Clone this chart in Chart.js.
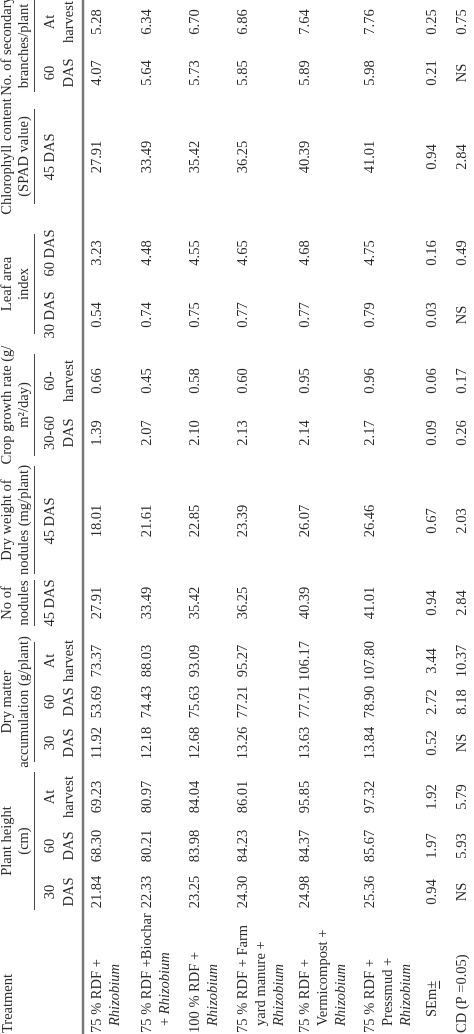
<!DOCTYPE html>
<html>
<head>
<meta charset="utf-8">
<script src="https://cdn.jsdelivr.net/npm/chart.js@4.4.0/dist/chart.umd.min.js"></script>
<style>
  html, body { margin: 0; padding: 0; background: #fff; overflow: hidden; }
  #page { width: 474px; height: 1034px; position: relative; overflow: hidden; }
  #wrap { position: absolute; left: 0; top: 0; width: 1034px; height: 474px;
          transform-origin: 0 0; transform: translate(0, 1034px) rotate(-90deg); }
</style>
</head>
<body>
<div id="page"><div id="wrap"><canvas id="TableChart" width="1034" height="474"></canvas></div></div>
<script>
// rows: six treatments, then SEm and CD
const treatments = [
    ['75 % RDF +', '*Rhizobium'],
    ['75 % RDF +Biochar', '+ *Rhizobium'],
    ['100 % RDF +', '*Rhizobium'],
    ['75 % RDF + Farm', 'yard manure +', '*Rhizobium'],
    ['75 % RDF +', 'Vermicompost +', '*Rhizobium'],
    ['75 % RDF +', 'Pressmud +', '*Rhizobium'],
    ['SEm±'],
    ['CD (P =0.05)']
];
const plantHeight30 = ['21.84', '22.33', '23.25', '24.30', '24.98', '25.36', '0.94', 'NS'];
const plantHeight60 = ['68.30', '80.21', '83.98', '84.23', '84.37', '85.67', '1.97', '5.93'];
const plantHeightHarvest = ['69.23', '80.97', '84.04', '86.01', '95.85', '97.32', '1.92', '5.79'];
const dryMatter30 = ['11.92', '12.18', '12.68', '13.26', '13.63', '13.84', '0.52', 'NS'];
const dryMatter60 = ['53.69', '74.43', '75.63', '77.21', '77.71', '78.90', '2.72', '8.18'];
const dryMatterHarvest = ['73.37', '88.03', '93.09', '95.27', '106.17', '107.80', '3.44', '10.37'];
const nodules45 = ['27.91', '33.49', '35.42', '36.25', '40.39', '41.01', '0.94', '2.84'];
const noduleWeight45 = ['18.01', '21.61', '22.85', '23.39', '26.07', '26.46', '0.67', '2.03'];
const cgr3060 = ['1.39', '2.07', '2.10', '2.13', '2.14', '2.17', '0.09', '0.26'];
const cgr60Harvest = ['0.66', '0.45', '0.58', '0.60', '0.95', '0.96', '0.06', '0.17'];
const lai30 = ['0.54', '0.74', '0.75', '0.77', '0.77', '0.79', '0.03', 'NS'];
const lai60 = ['3.23', '4.48', '4.55', '4.65', '4.68', '4.75', '0.16', '0.49'];
const chlorophyll45 = ['27.91', '33.49', '35.42', '36.25', '40.39', '41.01', '0.94', '2.84'];
const branches60 = ['4.07', '5.64', '5.73', '5.85', '5.89', '5.98', '0.21', 'NS'];
const branchesHarvest = ['5.28', '6.34', '6.70', '6.86', '7.64', '7.76', '0.25', '0.75'];

const groups = [
    { title: ['Plant height', '(cm)'], cols: [[['30', 'DAS'], plantHeight30], [['60', 'DAS'], plantHeight60], [['At', 'harvest'], plantHeightHarvest]] },
    { title: ['Dry matter', 'accumulation (g/plant)'], cols: [[['30', 'DAS'], dryMatter30], [['60', 'DAS'], dryMatter60], [['At', 'harvest'], dryMatterHarvest]] },
    { title: ['No of', 'nodules'], cols: [[['45 DAS'], nodules45]] },
    { title: ['Dry weight of', 'nodules (mg/plant)'], cols: [[['45 DAS'], noduleWeight45]] },
    { title: ['Crop growth rate (g/', 'm²/day)'], cols: [[['30-60', 'DAS'], cgr3060], [['60-', 'harvest'], cgr60Harvest]] },
    { title: ['Leaf area', 'index'], cols: [[['30 DAS'], lai30], [['60 DAS'], lai60]] },
    { title: ['Chlorophyll content', '(SPAD value)'], cols: [[['45 DAS'], chlorophyll45]] },
    { title: ['No. of secondary', 'branches/plant'], cols: [[['60', 'DAS'], branches60], [['At', 'harvest'], branchesHarvest]] }
];

// layout (scale units = unrotated pixels)
const colX = [142, 188, 237, 291, 332, 373, 431, 513, 601, 653, 719, 781, 877, 961, 1012];
const groupSpan = [[124, 262], [272, 392], [408, 454], [460, 568], [578, 680], [700, 800], [830, 925], [942, 1034]];
const rowY = [97, 147, 195, 243, 305, 370, 432, 462];
const lineGap = 18;
const font = '14.5px "Liberation Serif", "DejaVu Serif", serif';
const italic = 'italic 14.5px "Liberation Serif", "DejaVu Serif", serif';

var tablePlugin = {
    id: 'tablePlugin',
    afterDraw: function (chart) {
        const ctx = chart.ctx;
        const xs = chart.scales.x, ys = chart.scales.y;
        const px = v => xs.getPixelForValue(v);
        const py = v => ys.getPixelForValue(v);
        ctx.save();
        ctx.fillStyle = '#2b2b2b';
        ctx.textBaseline = 'middle';
        ctx.textAlign = 'center';

        // rules
        ctx.strokeStyle = '#777';
        ctx.lineWidth = 2.5;
        ctx.beginPath(); ctx.moveTo(px(0), py(83)); ctx.lineTo(px(1034), py(83)); ctx.stroke();
        ctx.strokeStyle = '#444';
        ctx.lineWidth = 1;
        groupSpan.forEach(s => {
            ctx.beginPath(); ctx.moveTo(px(s[0]), py(34.5)); ctx.lineTo(px(s[1]), py(34.5)); ctx.stroke();
        });

        ctx.font = font;
        ctx.textAlign = 'left';
        ctx.fillText('Treatment', px(1), py(8));
        ctx.textAlign = 'center';

        let c = 0;
        groups.forEach((g, gi) => {
            const mid = (groupSpan[gi][0] + groupSpan[gi][1]) / 2;
            g.title.forEach((t, i) => ctx.fillText(t, px(mid), py(7 + i * 17)));
            g.cols.forEach(col => {
                const head = col[0], vals = col[1];
                head.forEach((t, i) => ctx.fillText(t, px(colX[c]), py(50 + i * 19)));
                vals.forEach((v, r) => ctx.fillText(v, px(colX[c]), py(rowY[r])));
                c++;
            });
        });

        ctx.textAlign = 'left';
        treatments.forEach((lines, r) => {
            lines.forEach((t, i) => {
                const y = py(rowY[r] + i * lineGap);
                let x0 = px(i === 0 ? (r === 6 ? 17 : 1) : 8);
                const parts = t.split('*');
                ctx.font = font;
                ctx.fillText(parts[0], x0, y);
                if (parts.length > 1) {
                    const w1 = ctx.measureText(parts[0]).width;
                    ctx.font = italic;
                    ctx.fillText(parts[1], x0 + w1, y);
                    ctx.font = font;
                }
                if (r === 6) {
                    const wa = ctx.measureText('SEm').width, wb = ctx.measureText('±').width;
                    ctx.fillRect(x0 + wa, y + 7, wb, 1);
                }
            });
        });
        ctx.restore();
    }
};

var renderTable = function () {
    const ctx = document.getElementById('TableChart').getContext('2d');
    new Chart(ctx, {
        type: 'scatter',
        data: { datasets: [{ data: [] }] },
        options: {
            responsive: false,
            animation: false,
            layout: { padding: 0 },
            plugins: { legend: { display: false }, tooltip: { enabled: false } },
            scales: {
                x: { type: 'linear', min: 0, max: 1034, display: false },
                y: { type: 'linear', min: 0, max: 474, reverse: true, display: false }
            }
        },
        plugins: [tablePlugin]
    });
};
renderTable();
</script>
</body>
</html>
